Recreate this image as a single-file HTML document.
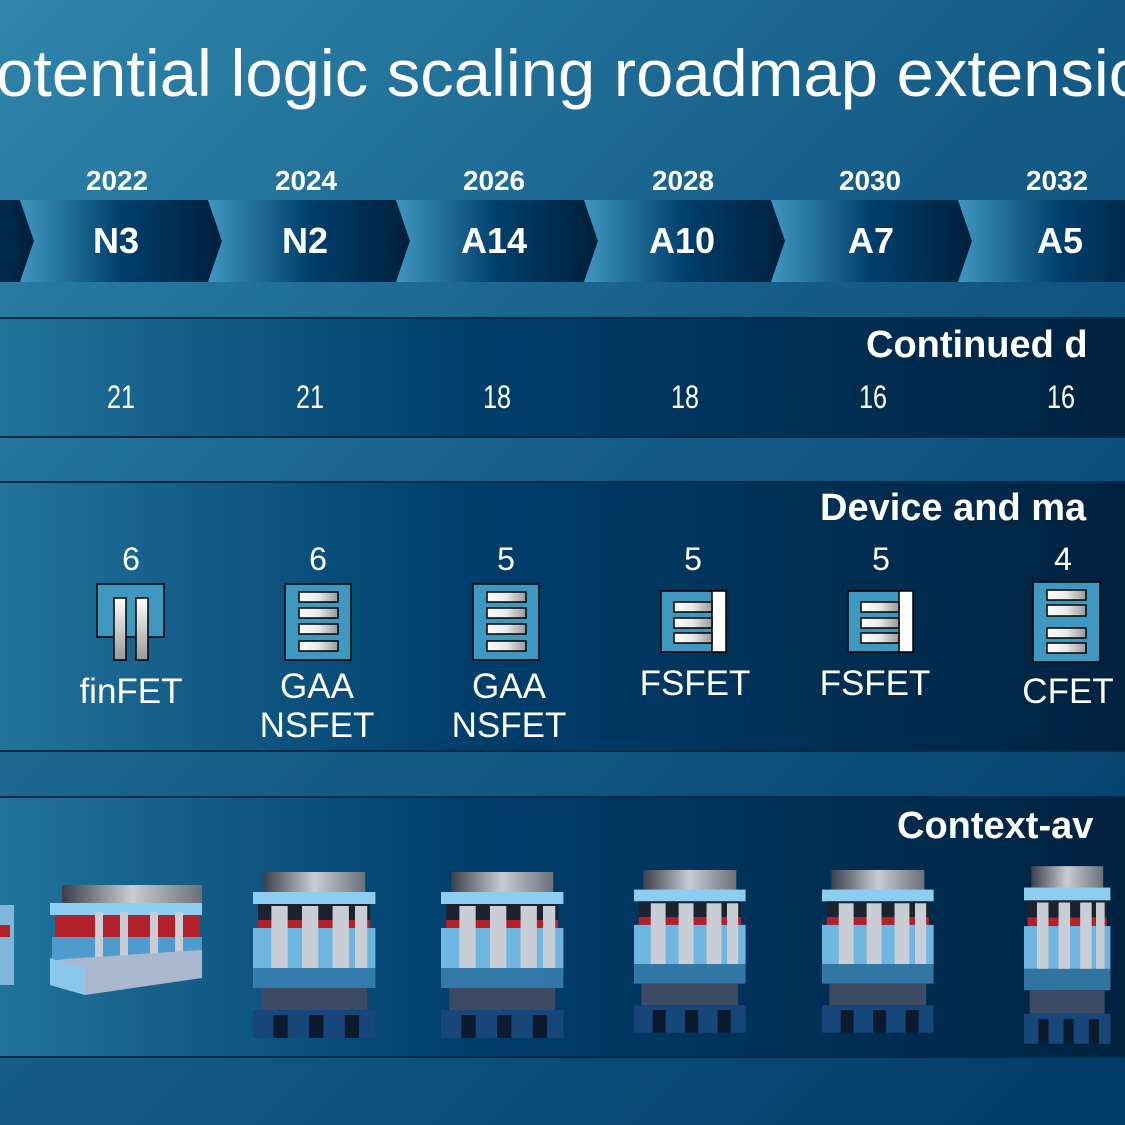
<!DOCTYPE html>
<html><head><meta charset="utf-8"><style>
html,body{margin:0;padding:0;width:1125px;height:1125px;overflow:hidden;background:#0a4670}
svg{display:block}
text{font-family:"Liberation Sans",sans-serif;fill:#fff}
</style></head><body>
<svg width="1125" height="1125" viewBox="0 0 1125 1125" xmlns="http://www.w3.org/2000/svg">
<defs>
<linearGradient id="bg" x1="0" y1="0" x2="1" y2="1">
<stop offset="0" stop-color="#2f85ab"/><stop offset="0.45" stop-color="#165f8a"/><stop offset="1" stop-color="#003a66"/>
</linearGradient>
<linearGradient id="band" x1="0" y1="0" x2="1" y2="0">
<stop offset="0" stop-color="#22739c"/><stop offset="0.4" stop-color="#003f6e"/><stop offset="1" stop-color="#00223f"/>
</linearGradient>
<linearGradient id="chev" x1="0" y1="0" x2="1" y2="0">
<stop offset="0" stop-color="#3f97c0"/><stop offset="0.5" stop-color="#003f6d"/><stop offset="1" stop-color="#001f3b"/>
</linearGradient>
<linearGradient id="bar" x1="0" y1="0" x2="1" y2="0">
<stop offset="0" stop-color="#fff"/><stop offset="0.5" stop-color="#e8e8e8"/><stop offset="1" stop-color="#999"/>
</linearGradient>
<linearGradient id="fin" x1="0" y1="0" x2="0" y2="1">
<stop offset="0" stop-color="#fff"/><stop offset="1" stop-color="#999"/>
</linearGradient>
<linearGradient id="grey" x1="0" y1="0" x2="1" y2="0">
<stop offset="0" stop-color="#3a3f4a"/><stop offset="0.5" stop-color="#c9ccd3"/><stop offset="1" stop-color="#6a6f7a"/>
</linearGradient>
<g id="chip">
<rect x="10" y="2" width="100" height="22" fill="url(#grey)"/>
<rect x="0" y="22" width="120" height="12" fill="#8ccdf0"/>
<rect x="5" y="34" width="110" height="16" fill="#1d2230"/>
<rect x="5" y="50" width="110" height="8" fill="#b3202a"/>
<rect x="0" y="58" width="120" height="40" fill="#6fb6e0"/>
<rect x="18" y="36" width="16" height="62" fill="#c8cdd6"/>
<rect x="48" y="36" width="16" height="62" fill="#c8cdd6"/>
<rect x="78" y="36" width="16" height="62" fill="#c8cdd6"/>
<rect x="100" y="36" width="12" height="62" fill="#c8cdd6"/>
<rect x="0" y="98" width="120" height="20" fill="#3f88b8" opacity="0.8"/>
<rect x="8" y="118" width="104" height="22" fill="#3c4a63"/>
<rect x="0" y="140" width="120" height="28" fill="#17467a"/>
<rect x="20" y="145" width="14" height="23" fill="#0b1a2c"/>
<rect x="55" y="145" width="14" height="23" fill="#0b1a2c"/>
<rect x="90" y="145" width="14" height="23" fill="#0b1a2c"/>
</g>
</defs>
<rect width="1125" height="1125" fill="url(#bg)"/>
<text x="-4" y="96" font-size="66" textLength="1150" lengthAdjust="spacingAndGlyphs">otential logic scaling roadmap extensio</text>

<g font-size="28" font-weight="bold" text-anchor="middle">
<text x="117" y="190" textLength="62" lengthAdjust="spacingAndGlyphs">2022</text><text x="306" y="190" textLength="62" lengthAdjust="spacingAndGlyphs">2024</text><text x="494" y="190" textLength="62" lengthAdjust="spacingAndGlyphs">2026</text>
<text x="683" y="190" textLength="62" lengthAdjust="spacingAndGlyphs">2028</text><text x="870" y="190" textLength="62" lengthAdjust="spacingAndGlyphs">2030</text><text x="1057" y="190" textLength="62" lengthAdjust="spacingAndGlyphs">2032</text>
</g>
<polygon points="-170,200 20,200 34,241 20,282 -170,282" fill="url(#chev)"/>
<polygon points="20,200 208,200 222,241 208,282 20,282 34,241" fill="url(#chev)"/>
<polygon points="208,200 396,200 410,241 396,282 208,282 222,241" fill="url(#chev)"/>
<polygon points="396,200 584,200 598,241 584,282 396,282 410,241" fill="url(#chev)"/>
<polygon points="584,200 771,200 785,241 771,282 584,282 598,241" fill="url(#chev)"/>
<polygon points="771,200 958,200 972,241 958,282 771,282 785,241" fill="url(#chev)"/>
<polygon points="958,200 1145,200 1159,241 1145,282 958,282 972,241" fill="url(#chev)"/>
<g font-size="36" font-weight="bold" text-anchor="middle">
<text x="116" y="253">N3</text><text x="305" y="253">N2</text><text x="494" y="253">A14</text>
<text x="682" y="253">A10</text><text x="871" y="253">A7</text><text x="1060" y="253">A5</text>
</g>

<rect x="0" y="318" width="1125" height="119" fill="url(#band)"/>
<rect x="0" y="317" width="1125" height="2" fill="#0a2a45"/>
<rect x="0" y="436" width="1125" height="2" fill="#0a2a45"/>
<text x="866" y="357" font-size="38" font-weight="bold">Continued d</text>
<g font-size="32" text-anchor="middle">
<text x="121" y="408" textLength="28" lengthAdjust="spacingAndGlyphs">21</text><text x="310" y="408" textLength="28" lengthAdjust="spacingAndGlyphs">21</text><text x="497" y="408" textLength="28" lengthAdjust="spacingAndGlyphs">18</text>
<text x="685" y="408" textLength="28" lengthAdjust="spacingAndGlyphs">18</text><text x="873" y="408" textLength="28" lengthAdjust="spacingAndGlyphs">16</text><text x="1061" y="408" textLength="28" lengthAdjust="spacingAndGlyphs">16</text>
</g>

<rect x="0" y="482" width="1125" height="269" fill="url(#band)"/>
<rect x="0" y="481" width="1125" height="2" fill="#0a2a45"/>
<rect x="0" y="750" width="1125" height="2" fill="#0a2a45"/>
<text x="820" y="520" font-size="38" font-weight="bold">Device and ma</text>
<g font-size="32" text-anchor="middle">
<text x="131" y="570">6</text><text x="318" y="570">6</text><text x="506" y="570">5</text>
<text x="693" y="570">5</text><text x="881" y="570">5</text><text x="1063" y="570">4</text>
</g>
<rect x="97" y="584" width="67" height="53" fill="#3f98c0" stroke="#000" stroke-width="1.5"/>
<rect x="114" y="598" width="12" height="62" fill="url(#fin)" stroke="#000" stroke-width="1.5"/>
<rect x="136" y="598" width="12" height="62" fill="url(#fin)" stroke="#000" stroke-width="1.5"/>
<g stroke="#000" stroke-width="1.5">
<rect x="285" y="584" width="66" height="76" fill="#3f98c0"/>
<rect x="299" y="592" width="39" height="10" fill="url(#bar)"/><rect x="299" y="608" width="39" height="10" fill="url(#bar)"/>
<rect x="299" y="624" width="39" height="10" fill="url(#bar)"/><rect x="299" y="641" width="39" height="10" fill="url(#bar)"/>
<rect x="473" y="584" width="66" height="76" fill="#3f98c0"/>
<rect x="487" y="592" width="39" height="10" fill="url(#bar)"/><rect x="487" y="608" width="39" height="10" fill="url(#bar)"/>
<rect x="487" y="624" width="39" height="10" fill="url(#bar)"/><rect x="487" y="641" width="39" height="10" fill="url(#bar)"/>
<rect x="661" y="591" width="65" height="61" fill="#3f98c0"/>
<rect x="712" y="591" width="14" height="61" fill="#fff"/>
<rect x="674" y="602" width="38" height="10" fill="url(#bar)"/><rect x="674" y="618" width="38" height="10" fill="url(#bar)"/><rect x="674" y="633" width="38" height="10" fill="url(#bar)"/>
<rect x="848" y="591" width="65" height="61" fill="#3f98c0"/>
<rect x="899" y="591" width="14" height="61" fill="#fff"/>
<rect x="861" y="602" width="38" height="10" fill="url(#bar)"/><rect x="861" y="618" width="38" height="10" fill="url(#bar)"/><rect x="861" y="633" width="38" height="10" fill="url(#bar)"/>
<rect x="1033" y="582" width="67" height="80" fill="#3f98c0"/>
<rect x="1047" y="590" width="39" height="10" fill="url(#bar)"/><rect x="1047" y="605" width="39" height="11" fill="url(#bar)"/>
<rect x="1047" y="628" width="39" height="10" fill="url(#bar)"/><rect x="1047" y="643" width="39" height="10" fill="url(#bar)"/>
</g>
<g font-size="35" text-anchor="middle">
<text x="131" y="703">finFET</text>
<text x="317" y="698">GAA</text><text x="317" y="737">NSFET</text>
<text x="509" y="698">GAA</text><text x="509" y="737">NSFET</text>
<text x="695" y="695">FSFET</text><text x="875" y="695">FSFET</text>
<text x="1068" y="703">CFET</text>
</g>

<rect x="0" y="797" width="1125" height="260" fill="url(#band)"/>
<rect x="0" y="796" width="1125" height="2" fill="#0a2a45"/>
<rect x="0" y="1056" width="1125" height="2" fill="#0a2a45"/>
<text x="897" y="838" font-size="38" font-weight="bold">Context-av</text>

<g>
<rect x="-20" y="905" width="34" height="80" fill="#7fb6da"/>
<rect x="-20" y="925" width="30" height="12" fill="#b3202a"/>
<rect x="62" y="885" width="140" height="18" fill="url(#grey)"/>
<rect x="50" y="903" width="152" height="12" fill="#8ccdf0"/>
<rect x="55" y="915" width="145" height="22" fill="#b3202a"/>
<rect x="52" y="937" width="150" height="22" fill="#4f9ccc"/>
<rect x="95" y="912" width="8" height="60" fill="#c8cdd6"/><rect x="120" y="912" width="8" height="60" fill="#c8cdd6"/>
<rect x="150" y="912" width="8" height="60" fill="#c8cdd6"/><rect x="175" y="912" width="8" height="60" fill="#c8cdd6"/>
<polygon points="50,960 202,950 202,978 85,995 50,985" fill="#aab8cf"/>
<polygon points="50,958 85,968 85,995 50,985" fill="#8cc6ea"/>
</g>
<use href="#chip" transform="translate(253,870) scale(1.02,1)"/>
<use href="#chip" transform="translate(441,870) scale(1.02,1)"/>
<use href="#chip" transform="translate(634,868) scale(0.93,0.98)"/>
<use href="#chip" transform="translate(822,868) scale(0.93,0.98)"/>
<use href="#chip" transform="translate(1024,864) scale(0.72,1.07)"/>
</svg>
</body></html>
